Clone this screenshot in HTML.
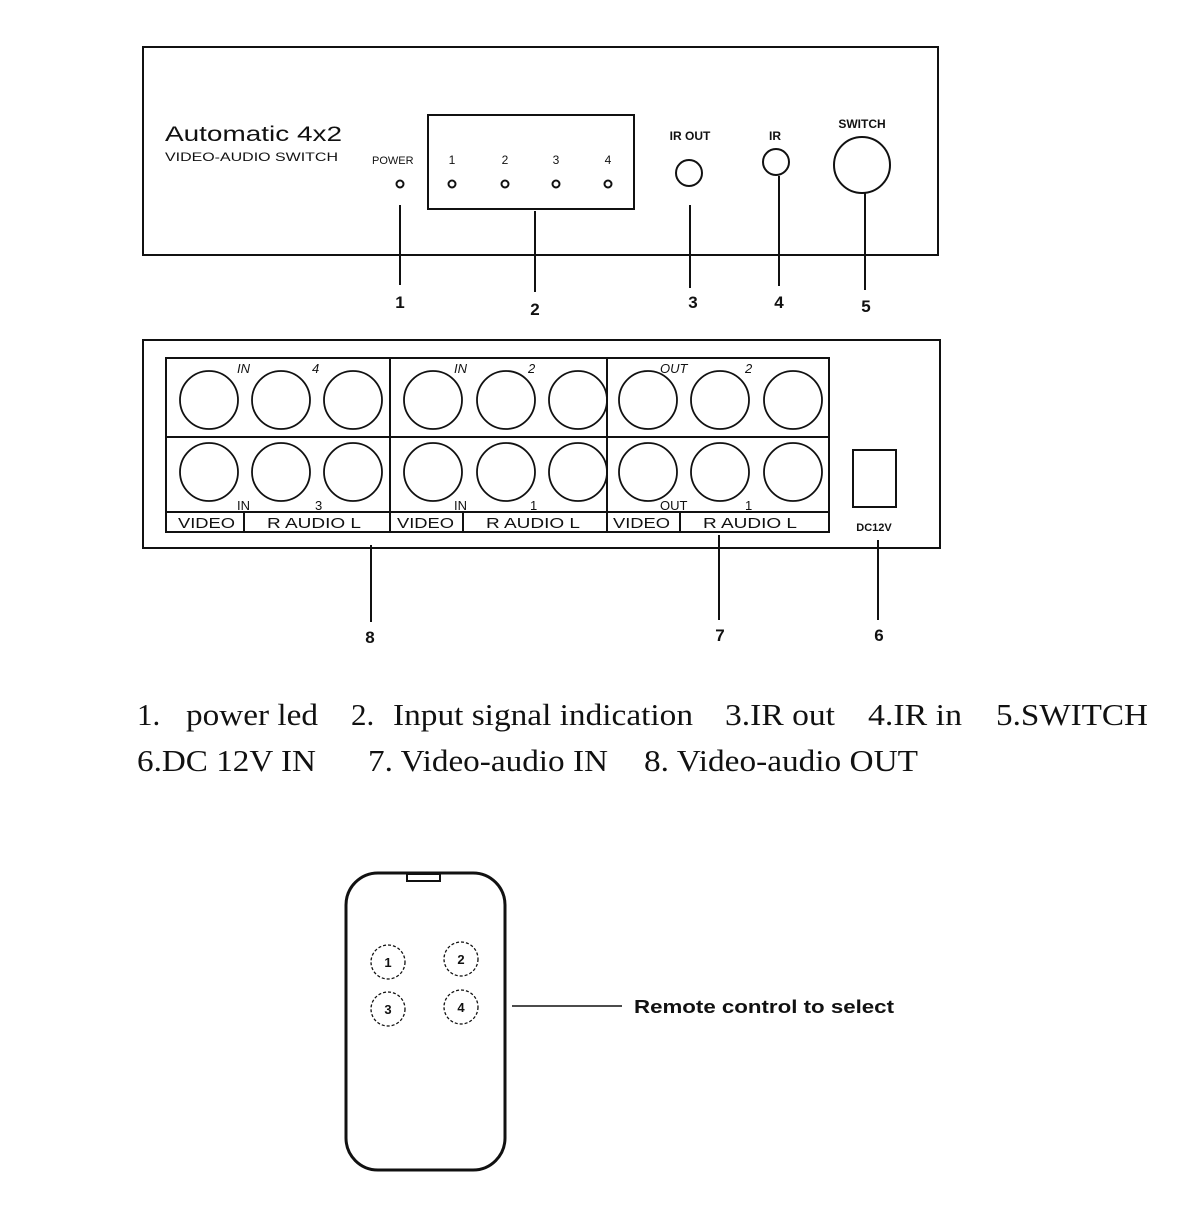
<!DOCTYPE html>
<html><head><style>body{margin:0;background:#fff}</style></head><body>
<svg width="1200" height="1200" xmlns="http://www.w3.org/2000/svg" font-family="Liberation Sans, sans-serif">
<rect width="1200" height="1200" fill="#fff"/>
<g fill="none" stroke="#111" stroke-width="2">
<rect x="143" y="47" width="795" height="208"/>
<rect x="428" y="115" width="206" height="94"/>
<circle cx="400" cy="184" r="3.5"/>
<circle cx="452" cy="184" r="3.5"/><circle cx="505" cy="184" r="3.5"/><circle cx="556" cy="184" r="3.5"/><circle cx="608" cy="184" r="3.5"/>
<circle cx="689" cy="173" r="13"/>
<circle cx="776" cy="162" r="13"/>
<circle cx="862" cy="165" r="28"/>
<line x1="400" y1="205" x2="400" y2="285"/>
<line x1="535" y1="211" x2="535" y2="292"/>
<line x1="690" y1="205" x2="690" y2="288"/>
<line x1="779" y1="176" x2="779" y2="286"/>
<line x1="865" y1="193" x2="865" y2="290"/>
<rect x="143" y="340" width="797" height="208"/>
<rect x="166" y="358" width="663" height="174"/>
<line x1="166" y1="437" x2="829" y2="437"/>
<line x1="166" y1="512" x2="829" y2="512"/>
<line x1="390" y1="358" x2="390" y2="532"/>
<line x1="607" y1="358" x2="607" y2="532"/>
<line x1="244" y1="512" x2="244" y2="532"/>
<line x1="463" y1="512" x2="463" y2="532"/>
<line x1="680" y1="512" x2="680" y2="532"/>
<g stroke-width="1.8">
<circle cx="209" cy="400" r="29"/><circle cx="281" cy="400" r="29"/><circle cx="353" cy="400" r="29"/>
<circle cx="433" cy="400" r="29"/><circle cx="506" cy="400" r="29"/><circle cx="578" cy="400" r="29"/>
<circle cx="648" cy="400" r="29"/><circle cx="720" cy="400" r="29"/><circle cx="793" cy="400" r="29"/>
<circle cx="209" cy="472" r="29"/><circle cx="281" cy="472" r="29"/><circle cx="353" cy="472" r="29"/>
<circle cx="433" cy="472" r="29"/><circle cx="506" cy="472" r="29"/><circle cx="578" cy="472" r="29"/>
<circle cx="648" cy="472" r="29"/><circle cx="720" cy="472" r="29"/><circle cx="793" cy="472" r="29"/>
</g>
<rect x="853" y="450" width="43" height="57"/>
<line x1="371" y1="545" x2="371" y2="622"/>
<line x1="719" y1="535" x2="719" y2="620"/>
<line x1="878" y1="540" x2="878" y2="620"/>
<rect x="346" y="873" width="159" height="297" rx="32" stroke-width="3"/>
<rect x="407" y="874" width="33" height="7" stroke-width="2"/>
<g stroke-dasharray="3,2" stroke-width="1.3">
<circle cx="388" cy="962" r="17"/><circle cx="461" cy="959" r="17"/>
<circle cx="388" cy="1009" r="17"/><circle cx="461" cy="1007" r="17"/>
</g>
<line x1="512" y1="1006" x2="622" y2="1006" stroke-width="1.5"/>
</g>
<g fill="#111">
<text x="165" y="141" font-size="21" textLength="177" lengthAdjust="spacingAndGlyphs">Automatic 4x2</text>
<text x="165" y="161" font-size="12" textLength="173" lengthAdjust="spacingAndGlyphs">VIDEO-AUDIO SWITCH</text>
<text x="372" y="164" font-size="11">POWER</text>
<g font-size="12" text-anchor="middle"><text x="452" y="164">1</text><text x="505" y="164">2</text><text x="556" y="164">3</text><text x="608" y="164">4</text></g>
<g font-size="12" font-weight="bold" text-anchor="middle"><text x="690" y="140">IR OUT</text><text x="775" y="140">IR</text><text x="862" y="128">SWITCH</text></g>
<g font-size="17" font-weight="bold" text-anchor="middle">
<text x="400" y="308">1</text><text x="535" y="315">2</text><text x="693" y="308">3</text><text x="779" y="308">4</text><text x="866" y="312">5</text>
<text x="370" y="643">8</text><text x="720" y="641">7</text><text x="879" y="641">6</text>
</g>
<g font-size="13" font-style="italic">
<text x="237" y="373">IN</text><text x="312" y="373">4</text>
<text x="454" y="373">IN</text><text x="528" y="373">2</text>
<text x="660" y="373">OUT</text><text x="745" y="373">2</text>
</g>
<g font-size="13">
<text x="237" y="510">IN</text><text x="315" y="510">3</text>
<text x="454" y="510">IN</text><text x="530" y="510">1</text>
<text x="660" y="510">OUT</text><text x="745" y="510">1</text>
</g>
<g font-size="15" lengthAdjust="spacingAndGlyphs">
<text x="178" y="528" textLength="57" lengthAdjust="spacingAndGlyphs">VIDEO</text><text x="267" y="528" textLength="94" lengthAdjust="spacingAndGlyphs">R AUDIO L</text>
<text x="397" y="528" textLength="57" lengthAdjust="spacingAndGlyphs">VIDEO</text><text x="486" y="528" textLength="94" lengthAdjust="spacingAndGlyphs">R AUDIO L</text>
<text x="613" y="528" textLength="57" lengthAdjust="spacingAndGlyphs">VIDEO</text><text x="703" y="528" textLength="94" lengthAdjust="spacingAndGlyphs">R AUDIO L</text>
</g>
<text x="874" y="531" font-size="11" font-weight="bold" text-anchor="middle">DC12V</text>
<g font-family="Liberation Serif, serif" font-size="31">
<text x="137" y="725">1.</text><text x="186" y="725" textLength="132" lengthAdjust="spacingAndGlyphs">power led</text>
<text x="351" y="725">2.</text><text x="393" y="725" textLength="300" lengthAdjust="spacingAndGlyphs">Input signal indication</text>
<text x="725" y="725" textLength="110" lengthAdjust="spacingAndGlyphs">3.IR out</text><text x="868" y="725" textLength="94" lengthAdjust="spacingAndGlyphs">4.IR in</text><text x="996" y="725" textLength="152" lengthAdjust="spacingAndGlyphs">5.SWITCH</text>
<text x="137" y="771" textLength="179" lengthAdjust="spacingAndGlyphs">6.DC 12V IN</text><text x="368" y="771" textLength="240" lengthAdjust="spacingAndGlyphs">7. Video-audio IN</text><text x="644" y="771" textLength="274" lengthAdjust="spacingAndGlyphs">8. Video-audio OUT</text>
</g>
<g font-size="13" font-weight="bold" text-anchor="middle">
<text x="388" y="967">1</text><text x="461" y="964">2</text><text x="388" y="1014">3</text><text x="461" y="1012">4</text>
</g>
<text x="634" y="1013" font-size="18" font-weight="bold" textLength="260" lengthAdjust="spacingAndGlyphs">Remote control to select</text>
</g>
</svg>
</body></html>
